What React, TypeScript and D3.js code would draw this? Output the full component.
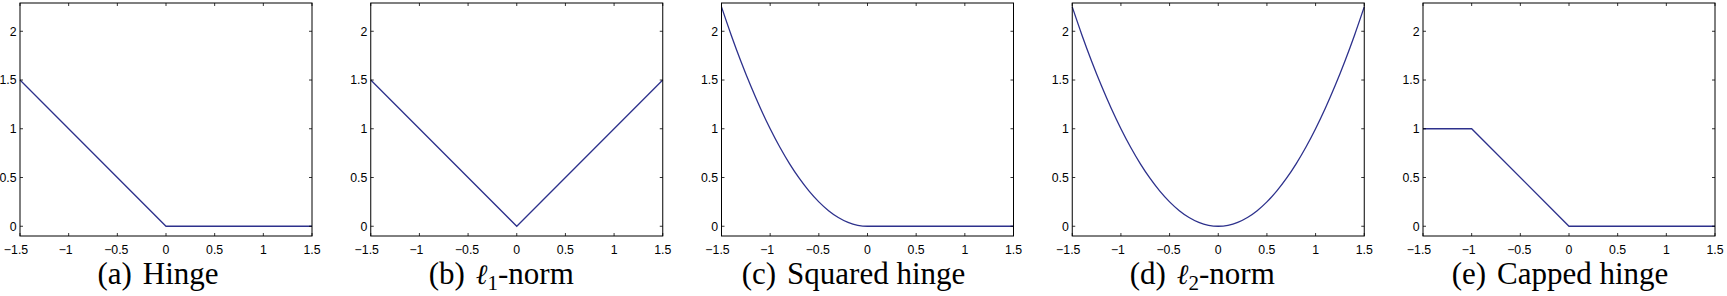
import React from "react";
import * as d3 from "d3";

// ---- data ----
const xTicks = [-1.5, -1, -0.5, 0, 0.5, 1, 1.5];
const xTickLabels = ["−1.5", "−1", "−0.5", "0", "0.5", "1", "1.5"];
const yTicks = [0, 0.5, 1, 1.5, 2];
const yTickLabels = ["0", "0.5", "1", "1.5", "2"];

const captionLetters = ["(a)", "(b)", "(c)", "(d)", "(e)"];
const captionNames = ["Hinge", "ℓ|1|-norm", "Squared hinge", "ℓ|2|-norm", "Capped hinge"];

const hingeX = [-1.5, 0, 1.5];
const hingeY = [1.5, 0, 0];

const l1X = [-1.5, 0, 1.5];
const l1Y = [1.5, 0, 1.5];

const gridX = [
  -1.5, -1.4, -1.3, -1.2, -1.1, -1.0, -0.9, -0.8, -0.7, -0.6, -0.5, -0.4, -0.3, -0.2, -0.1, 0,
  0.1, 0.2, 0.3, 0.4, 0.5, 0.6, 0.7, 0.8, 0.9, 1.0, 1.1, 1.2, 1.3, 1.4, 1.5,
];
const squaredHingeY = [
  2.25, 1.96, 1.69, 1.44, 1.21, 1.0, 0.81, 0.64, 0.49, 0.36, 0.25, 0.16, 0.09, 0.04, 0.01, 0,
  0, 0, 0, 0, 0, 0, 0, 0, 0, 0, 0, 0, 0, 0, 0,
];
const l2Y = [
  2.25, 1.96, 1.69, 1.44, 1.21, 1.0, 0.81, 0.64, 0.49, 0.36, 0.25, 0.16, 0.09, 0.04, 0.01, 0,
  0.01, 0.04, 0.09, 0.16, 0.25, 0.36, 0.49, 0.64, 0.81, 1.0, 1.21, 1.44, 1.69, 1.96, 2.25,
];

const cappedX = [-1.5, -1, 0, 1.5];
const cappedY = [1, 1, 0, 0];

const panelSeries = [
  { xs: hingeX, ys: hingeY, smooth: false },
  { xs: l1X, ys: l1Y, smooth: false },
  { xs: gridX, ys: squaredHingeY, smooth: true },
  { xs: gridX, ys: l2Y, smooth: true },
  { xs: cappedX, ys: cappedY, smooth: false },
];

// ---- layout ----
const W = 1727;
const H = 296;
const firstLeft = 20;
const panelStep = 350.75;
const panelW = 292;
const top = 3;
const bottom = 236;
const captionCenter = [138, 130.5, 132, 130, 137];
const lineColor = "#2d318c";
const tickFont = 12.3;

function Caption({ letter, name, cx }: { letter: string; name: string; cx: number }) {
  const parts = name.split("|");
  return (
    <text
      x={cx}
      y={284}
      textAnchor="middle"
      fontFamily="'Liberation Serif', 'Times New Roman', serif"
      fontSize={31}
      fill="#000"
    >
      <tspan>{letter}</tspan>
      {parts.length === 1 ? (
        <tspan dx={11}>{name}</tspan>
      ) : (
        <>
          <tspan dx={11} fontFamily="'DejaVu Serif', serif" fontStyle="italic" fontSize={28}>
            {parts[0]}
          </tspan>
          <tspan fontSize={21} dy={6}>
            {parts[1]}
          </tspan>
          <tspan dy={-6}>{parts[2]}</tspan>
        </>
      )}
    </text>
  );
}

function Panel({ index }: { index: number }) {
  const left = firstLeft + index * panelStep;
  const x = d3.scaleLinear().domain([-1.5, 1.5]).range([left, left + panelW]);
  const y = d3.scaleLinear().domain([-0.1, 2.29]).range([bottom, top]);
  const s = panelSeries[index];
  const pts = s.xs.map((v, i) => [v, s.ys[i]] as [number, number]);
  const line = d3
    .line<[number, number]>()
    .x((d) => x(d[0]))
    .y((d) => y(d[1]))
    .curve(s.smooth ? d3.curveMonotoneX : d3.curveLinear);
  const tl = 3;
  return (
    <g>
      <path d={line(pts) || ""} fill="none" stroke={lineColor} strokeWidth={1.3} />
      <rect
        x={left}
        y={top}
        width={panelW}
        height={bottom - top}
        fill="none"
        stroke="#000"
        strokeWidth={1}
      />
      {xTicks.map((t, i) => (
        <g key={"x" + i}>
          <line x1={x(t)} x2={x(t)} y1={bottom} y2={bottom - tl} stroke="#000" strokeWidth={0.8} />
          <line x1={x(t)} x2={x(t)} y1={top} y2={top + tl} stroke="#000" strokeWidth={0.8} />
          <text
            x={x(t)}
            y={253.5}
            dx={i === 0 ? -4 : i === 1 ? -3 : i === 2 ? -1 : 0}
            textAnchor="middle"
            fontFamily="'Liberation Sans', Arial, sans-serif"
            fontSize={tickFont}
            fill="#000"
          >
            {xTickLabels[i]}
          </text>
        </g>
      ))}
      {yTicks.map((t, i) => (
        <g key={"y" + i}>
          <line x1={left} x2={left + tl} y1={y(t)} y2={y(t)} stroke="#000" strokeWidth={0.8} />
          <line
            x1={left + panelW}
            x2={left + panelW - tl}
            y1={y(t)}
            y2={y(t)}
            stroke="#000"
            strokeWidth={0.8}
          />
          <text
            x={left - 3.5}
            y={y(t)}
            dy="0.36em"
            textAnchor="end"
            fontFamily="'Liberation Sans', Arial, sans-serif"
            fontSize={tickFont}
            fill="#000"
          >
            {yTickLabels[i]}
          </text>
        </g>
      ))}
      <Caption letter={captionLetters[index]} name={captionNames[index]} cx={left + captionCenter[index]} />
    </g>
  );
}

export default function App() {
  return (
    <svg
      width={W}
      height={H}
      viewBox={`0 0 ${W} ${H}`}
      style={{ position: "absolute", left: 0, top: 0, background: "#fff" }}
    >
      <rect x={0} y={0} width={W} height={H} fill="#fff" />
      {panelSeries.map((_, i) => (
        <Panel key={i} index={i} />
      ))}
    </svg>
  );
}
